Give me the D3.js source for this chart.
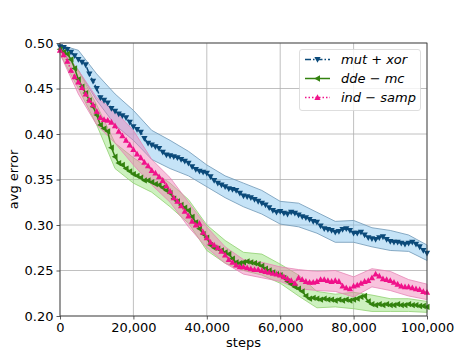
<!DOCTYPE html>
<html><head><meta charset="utf-8">
<script src="https://cdn.jsdelivr.net/npm/d3@7"></script>
<style>body{margin:0;background:#fff}svg{display:block}text{font-family:"DejaVu Sans",sans-serif}</style>
</head><body>
<script>
// ---- data (steps in thousands) ----
const steps = d3.range(0, 101); // 0..100 (x1000)
const mutXor = [0.496,0.495,0.493,0.490,0.486,0.482,0.479,0.476,0.466,0.458,0.450,0.440,0.437,0.434,0.428,0.425,0.422,0.420,0.418,0.413,
0.408,0.405,0.402,0.395,0.390,0.388,0.386,0.384,0.380,0.377,0.376,0.375,0.374,0.372,0.370,0.368,0.364,0.361,0.359,0.358,
0.357,0.353,0.349,0.346,0.344,0.342,0.340,0.339,0.338,0.335,0.332,0.331,0.330,0.328,0.326,0.324,0.322,0.319,0.316,0.314,
0.315,0.313,0.312,0.314,0.313,0.311,0.309,0.308,0.306,0.304,0.303,0.299,0.296,0.295,0.294,0.292,0.293,0.295,0.296,0.294,
0.291,0.291,0.292,0.289,0.286,0.285,0.284,0.286,0.287,0.284,0.282,0.281,0.281,0.280,0.279,0.280,0.281,0.279,0.276,0.272,0.269];
const ddeMc = [0.493,0.490,0.488,0.482,0.472,0.460,0.452,0.445,0.437,0.430,0.421,0.410,0.406,0.403,0.385,0.375,0.368,0.366,0.362,0.359,
0.356,0.354,0.352,0.349,0.349,0.347,0.345,0.344,0.341,0.338,0.335,0.329,0.326,0.322,0.319,0.316,0.309,0.303,0.296,0.290,
0.286,0.278,0.275,0.274,0.272,0.270,0.268,0.263,0.259,0.258,0.259,0.260,0.259,0.258,0.257,0.255,0.252,0.250,0.248,0.246,
0.245,0.242,0.238,0.235,0.232,0.230,0.227,0.222,0.219,0.220,0.219,0.218,0.219,0.218,0.218,0.217,0.218,0.217,0.218,0.217,
0.218,0.219,0.221,0.222,0.216,0.213,0.212,0.213,0.212,0.213,0.212,0.212,0.213,0.212,0.212,0.213,0.212,0.212,0.211,0.211,0.210];
const indSamp = [0.492,0.487,0.480,0.470,0.463,0.457,0.451,0.444,0.437,0.432,0.425,0.418,0.416,0.415,0.413,0.409,0.403,0.398,0.393,0.388,
0.383,0.378,0.374,0.369,0.365,0.360,0.357,0.353,0.349,0.343,0.337,0.330,0.326,0.321,0.315,0.310,0.304,0.300,0.302,0.292,
0.286,0.281,0.278,0.275,0.271,0.267,0.262,0.259,0.256,0.254,0.254,0.253,0.252,0.251,0.251,0.250,0.249,0.248,0.247,0.246,
0.245,0.243,0.241,0.239,0.236,0.242,0.240,0.238,0.237,0.237,0.238,0.240,0.240,0.239,0.238,0.239,0.238,0.233,0.231,0.230,
0.233,0.234,0.236,0.238,0.239,0.242,0.246,0.244,0.241,0.240,0.239,0.237,0.235,0.233,0.232,0.232,0.231,0.230,0.229,0.227,0.226];

// band bounds, every 5k steps
const bandSteps = d3.range(0, 101, 5);
const mutXorLo = [0.492,0.470,0.437,0.410,0.393,0.372,0.362,0.354,0.342,0.330,0.320,0.312,0.301,0.298,0.291,0.281,0.281,0.276,0.272,0.271,0.261];
const mutXorHi = [0.498,0.492,0.466,0.444,0.426,0.404,0.393,0.381,0.366,0.354,0.346,0.338,0.326,0.324,0.314,0.304,0.305,0.297,0.294,0.289,0.278];
const ddeMcLo  = [0.488,0.450,0.410,0.362,0.346,0.336,0.320,0.302,0.272,0.258,0.250,0.245,0.236,0.222,0.209,0.210,0.208,0.205,0.205,0.205,0.204];
const ddeMcHi  = [0.496,0.470,0.432,0.390,0.374,0.360,0.346,0.328,0.300,0.283,0.270,0.268,0.257,0.245,0.227,0.224,0.226,0.223,0.219,0.219,0.216];
const indSampLo= [0.488,0.444,0.410,0.390,0.366,0.344,0.325,0.298,0.275,0.258,0.246,0.242,0.238,0.230,0.228,0.227,0.221,0.232,0.228,0.222,0.218];
const indSampHi= [0.496,0.470,0.440,0.425,0.404,0.372,0.352,0.325,0.298,0.276,0.262,0.259,0.254,0.251,0.249,0.250,0.243,0.252,0.249,0.240,0.235];

const xTicks = [0, 20000, 40000, 60000, 80000, 100000];
const yTicks = [0.20, 0.25, 0.30, 0.35, 0.40, 0.45, 0.50];
const seriesNames = ["mut + xor", "dde \u2212 mc", "ind \u2212 samp"];

// ---- layout ----
const W = 474, H = 355;
const m = {l: 60, r: 47, t: 43, b: 39};
const svg = d3.select("body").append("svg").attr("width", W).attr("height", H);
const x = d3.scaleLinear().domain([0, 100000]).range([m.l, W - m.r]);
const y = d3.scaleLinear().domain([0.20, 0.50]).range([H - m.b, m.t]);

// grid
const g = svg.append("g");
g.selectAll(".gx").data(xTicks).join("line").attr("x1", d => x(d)).attr("x2", d => x(d))
  .attr("y1", m.t).attr("y2", H - m.b).attr("stroke", "#b0b0b0").attr("stroke-width", 0.8);
g.selectAll(".gy").data(yTicks).join("line").attr("y1", d => y(d)).attr("y2", d => y(d))
  .attr("x1", m.l).attr("x2", W - m.r).attr("stroke", "#b0b0b0").attr("stroke-width", 0.8);

const series = [
  {name: seriesNames[0], vals: mutXor, lo: mutXorLo, hi: mutXorHi, color: "#0b4a7a", fill: "#7fc0ee", edge: "#6f97b5", dash: "6,2,1.5,2", marker: "down"},
  {name: seriesNames[1], vals: ddeMc, lo: ddeMcLo, hi: ddeMcHi, color: "#33820f", fill: "#90e070", edge: "#8fd070", dash: null, marker: "left"},
  {name: seriesNames[2], vals: indSamp, lo: indSampLo, hi: indSampHi, color: "#f0128a", fill: "#f07ab4", edge: "#e687b6", dash: "1.5,2", marker: "up"}
];

function tri(type, r) {
  const pts = {
    up:   [[0,-r],[r*0.95,r*0.75],[-r*0.95,r*0.75]],
    down: [[0,r],[r*0.95,-r*0.75],[-r*0.95,-r*0.75]],
    left: [[-r,0],[r*0.75,-r*0.95],[r*0.75,r*0.95]]
  }[type];
  return "M" + pts.map(p => p.join(",")).join("L") + "Z";
}

const plot = svg.append("g");

series.forEach(s => {
  const band = bandSteps.map((st, i) => ({s: st * 1000, lo: s.lo[i], hi: s.hi[i]}));
  plot.append("path").datum(band)
    .attr("d", d3.area().x(d => x(d.s)).y0(d => y(d.lo)).y1(d => y(d.hi)))
    .attr("fill", s.fill).attr("fill-opacity", 0.45)
    .attr("stroke", s.edge).attr("stroke-width", 0.8);
});
series.forEach(s => {
  const pts = steps.map((st, i) => ({s: st * 1000, v: s.vals[i]}));
  plot.append("path").datum(pts)
    .attr("d", d3.line().x(d => x(d.s)).y(d => y(d.v)))
    .attr("fill", "none").attr("stroke", s.color).attr("stroke-width", 1.5)
    .attr("stroke-dasharray", s.dash);
  plot.selectAll(null).data(pts).join("path")
    .attr("transform", d => `translate(${x(d.s)},${y(d.v)})`)
    .attr("d", tri(s.marker, 3.3)).attr("fill", s.color);
});

// frame
svg.append("rect").attr("x", m.l).attr("y", m.t).attr("width", W - m.l - m.r).attr("height", H - m.t - m.b)
  .attr("fill", "none").attr("stroke", "#333").attr("stroke-width", 0.8);

// axes
const xa = svg.append("g").attr("transform", `translate(0,${H - m.b})`)
  .call(d3.axisBottom(x).tickValues(xTicks).tickFormat(d3.format(",")).tickSize(3.5).tickPadding(3));
const ya = svg.append("g").attr("transform", `translate(${m.l},0)`)
  .call(d3.axisLeft(y).tickValues(yTicks).tickFormat(d3.format(".2f")).tickSize(3.5).tickPadding(3));
[xa, ya].forEach(a => {
  a.select(".domain").remove();
  a.selectAll("text").attr("font-size", 13).attr("fill", "#000").attr("font-family", "DejaVu Sans");
  a.selectAll("line").attr("stroke", "#333").attr("stroke-width", 0.8);
});

svg.append("text").attr("x", x(50000)).attr("y", 347).attr("text-anchor", "middle")
  .attr("font-size", 13).text("steps");
svg.append("text").attr("transform", `translate(18,${(m.t + H - m.b) / 2}) rotate(-90)`)
  .attr("text-anchor", "middle").attr("font-size", 13).text("avg error");

// legend
const lg = svg.append("g");
lg.append("rect").attr("x", 299.5).attr("y", 49.5).attr("width", 121).attr("height", 61).attr("rx", 2.5)
  .attr("fill", "#fff").attr("fill-opacity", 0.8).attr("stroke", "#d6d6d6").attr("stroke-width", 0.8);
series.forEach((s, i) => {
  const yy = 59.5 + i * 19;
  lg.append("line").attr("x1", 305).attr("x2", 330).attr("y1", yy).attr("y2", yy)
    .attr("stroke", s.color).attr("stroke-width", 1.5).attr("stroke-dasharray", s.dash);
  lg.append("path").attr("transform", `translate(317.5,${yy})`).attr("d", tri(s.marker, 3.3)).attr("fill", s.color);
  lg.append("text").attr("x", 341).attr("y", yy + 4.5).attr("font-size", 13).attr("font-style", "italic")
    .text(s.name);
});
</script>
</body></html>
